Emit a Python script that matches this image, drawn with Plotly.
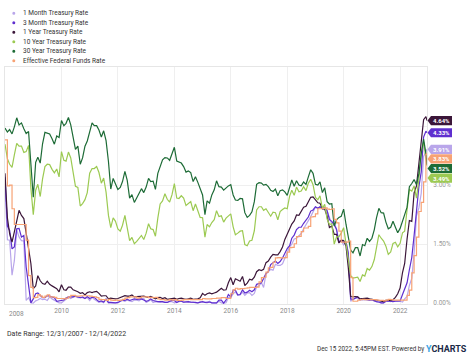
import calendar
import plotly.graph_objects as go

# ---------------- data (end-of-month readings, % ) ----------------
# first point 2007-12-31, then month ends 2008-01 .. 2022-11, last point 2022-12-14
series_names = ["1 Month Treasury Rate", "3 Month Treasury Rate", "1 Year Treasury Rate",
                "10 Year Treasury Rate", "30 Year Treasury Rate", "Effective Federal Funds Rate"]
series_colors = ["#b9a6ea", "#5f2fcf", "#3b1639", "#9cca52", "#1d6b36", "#f7a274"]

m1 = [3.00,
      1.61, 1.60, 0.71, 1.08, 1.86, 1.68, 1.59, 1.58, 0.07, 0.14, 0.01, 0.00,
      0.06, 0.08, 0.12, 0.09, 0.10, 0.07, 0.16, 0.11, 0.07, 0.04, 0.01, 0.01,
      0.05, 0.10, 0.15, 0.12, 0.16, 0.17, 0.14, 0.14, 0.14, 0.12, 0.14, 0.07,
      0.15, 0.10, 0.05, 0.02, 0.04, 0.01, 0.12, 0.00, 0.01, 0.00, 0.01, 0.01,
      0.05, 0.07, 0.05, 0.08, 0.06, 0.04, 0.08, 0.08, 0.06, 0.11, 0.12, 0.02,
      0.05, 0.09, 0.02, 0.04, 0.03, 0.02, 0.03, 0.02, 0.02, 0.04, 0.04, 0.01,
      0.02, 0.04, 0.05, 0.02, 0.03, 0.02, 0.02, 0.03, 0.01, 0.01, 0.04, 0.03,
      0.02, 0.01, 0.05, 0.01, 0.00, 0.00, 0.05, 0.01, 0.00, 0.01, 0.14, 0.14,
      0.24, 0.29, 0.20, 0.21, 0.28, 0.20, 0.26, 0.27, 0.20, 0.25, 0.42, 0.44,
      0.52, 0.40, 0.74, 0.79, 0.86, 0.84, 0.99, 0.96, 0.96, 1.00, 1.14, 1.28,
      1.43, 1.50, 1.63, 1.65, 1.70, 1.77, 1.89, 1.99, 2.12, 2.20, 2.32, 2.44,
      2.41, 2.44, 2.43, 2.43, 2.35, 2.18, 2.01, 2.10, 1.88, 1.59, 1.59, 1.48,
      1.56, 1.30, 0.05, 0.09, 0.13, 0.13, 0.08, 0.09, 0.09, 0.09, 0.08, 0.08,
      0.05, 0.04, 0.01, 0.01, 0.01, 0.05, 0.05, 0.04, 0.07, 0.05, 0.05, 0.05,
      0.03, 0.11, 0.17, 0.45, 0.63, 1.28, 2.22, 2.42, 2.79, 3.73, 3.88, 3.91]

m3 = [3.20,
      1.96, 1.85, 1.38, 1.43, 1.89, 1.90, 1.68, 1.72, 0.92, 0.46, 0.01, 0.11,
      0.24, 0.26, 0.21, 0.14, 0.14, 0.19, 0.18, 0.15, 0.14, 0.05, 0.06, 0.06,
      0.08, 0.13, 0.16, 0.16, 0.16, 0.18, 0.15, 0.14, 0.16, 0.12, 0.17, 0.12,
      0.15, 0.15, 0.09, 0.04, 0.06, 0.03, 0.10, 0.02, 0.02, 0.01, 0.01, 0.02,
      0.06, 0.08, 0.07, 0.10, 0.07, 0.09, 0.11, 0.10, 0.10, 0.11, 0.08, 0.05,
      0.07, 0.11, 0.07, 0.05, 0.04, 0.04, 0.04, 0.02, 0.02, 0.05, 0.07, 0.07,
      0.02, 0.05, 0.05, 0.03, 0.04, 0.04, 0.03, 0.03, 0.02, 0.01, 0.02, 0.04,
      0.02, 0.02, 0.03, 0.01, 0.01, 0.01, 0.08, 0.08, 0.00, 0.08, 0.22, 0.16,
      0.33, 0.33, 0.21, 0.22, 0.34, 0.26, 0.28, 0.33, 0.29, 0.34, 0.48, 0.51,
      0.52, 0.63, 0.76, 0.80, 0.98, 1.03, 1.07, 1.01, 1.06, 1.15, 1.27, 1.39,
      1.46, 1.65, 1.73, 1.87, 1.93, 1.93, 2.03, 2.11, 2.19, 2.34, 2.37, 2.45,
      2.41, 2.45, 2.40, 2.43, 2.35, 2.12, 2.08, 1.99, 1.88, 1.54, 1.59, 1.55,
      1.55, 1.27, 0.11, 0.10, 0.14, 0.16, 0.09, 0.11, 0.10, 0.09, 0.08, 0.09,
      0.06, 0.04, 0.03, 0.01, 0.01, 0.05, 0.06, 0.04, 0.04, 0.05, 0.05, 0.06,
      0.22, 0.35, 0.52, 0.85, 1.16, 1.72, 2.41, 2.96, 3.33, 4.22, 4.37, 4.33]

y1 = [3.30,
      2.17, 1.77, 1.55, 1.81, 2.10, 2.36, 2.23, 2.15, 1.78, 1.42, 1.01, 0.37,
      0.44, 0.70, 0.57, 0.50, 0.48, 0.56, 0.48, 0.44, 0.40, 0.37, 0.29, 0.47,
      0.34, 0.33, 0.41, 0.41, 0.34, 0.32, 0.29, 0.25, 0.27, 0.21, 0.27, 0.29,
      0.27, 0.29, 0.30, 0.25, 0.18, 0.19, 0.19, 0.11, 0.13, 0.12, 0.11, 0.12,
      0.15, 0.18, 0.19, 0.18, 0.18, 0.21, 0.16, 0.17, 0.17, 0.18, 0.18, 0.16,
      0.15, 0.17, 0.14, 0.11, 0.14, 0.15, 0.12, 0.14, 0.10, 0.12, 0.12, 0.13,
      0.10, 0.12, 0.13, 0.11, 0.10, 0.11, 0.13, 0.10, 0.11, 0.11, 0.14, 0.25,
      0.20, 0.24, 0.26, 0.24, 0.26, 0.28, 0.33, 0.38, 0.33, 0.34, 0.52, 0.65,
      0.47, 0.62, 0.59, 0.56, 0.68, 0.45, 0.51, 0.61, 0.59, 0.66, 0.80, 0.85,
      0.83, 0.86, 1.03, 1.07, 1.17, 1.24, 1.23, 1.23, 1.31, 1.43, 1.62, 1.76,
      1.89, 2.01, 2.09, 2.24, 2.23, 2.33, 2.44, 2.46, 2.59, 2.69, 2.70, 2.63,
      2.55, 2.54, 2.40, 2.39, 2.21, 1.92, 1.96, 1.75, 1.75, 1.53, 1.60, 1.59,
      1.45, 0.91, 0.17, 0.16, 0.17, 0.16, 0.11, 0.12, 0.12, 0.13, 0.11, 0.10,
      0.10, 0.08, 0.07, 0.05, 0.04, 0.07, 0.07, 0.07, 0.09, 0.15, 0.24, 0.39,
      0.78, 1.01, 1.63, 2.10, 2.08, 2.80, 2.98, 3.50, 4.05, 4.66, 4.74, 4.64]

y10 = [4.04,
       3.67, 3.53, 3.45, 3.77, 4.06, 3.99, 3.99, 3.83, 3.85, 4.01, 2.93, 2.25,
       2.87, 3.02, 2.71, 3.16, 3.47, 3.53, 3.52, 3.40, 3.31, 3.41, 3.21, 3.85,
       3.63, 3.61, 3.84, 3.69, 3.31, 2.97, 2.94, 2.47, 2.53, 2.63, 2.81, 3.30,
       3.42, 3.42, 3.47, 3.32, 3.05, 3.18, 2.82, 2.23, 1.92, 2.17, 2.08, 1.89,
       1.83, 1.98, 2.23, 1.95, 1.59, 1.67, 1.51, 1.57, 1.65, 1.72, 1.62, 1.78,
       2.02, 1.89, 1.87, 1.70, 2.16, 2.52, 2.60, 2.78, 2.64, 2.57, 2.75, 3.04,
       2.67, 2.66, 2.73, 2.67, 2.48, 2.53, 2.58, 2.35, 2.52, 2.35, 2.18, 2.17,
       1.68, 2.00, 1.94, 2.05, 2.12, 2.35, 2.20, 2.22, 2.06, 2.16, 2.21, 2.27,
       1.94, 1.74, 1.78, 1.83, 1.84, 1.49, 1.46, 1.58, 1.60, 1.84, 2.37, 2.45,
       2.45, 2.36, 2.40, 2.29, 2.21, 2.31, 2.30, 2.12, 2.33, 2.38, 2.42, 2.40,
       2.72, 2.87, 2.74, 2.95, 2.83, 2.85, 2.96, 2.86, 3.05, 3.15, 3.01, 2.69,
       2.63, 2.73, 2.41, 2.51, 2.14, 2.00, 2.02, 1.50, 1.68, 1.69, 1.78, 1.92,
       1.51, 1.13, 0.70, 0.64, 0.65, 0.66, 0.55, 0.72, 0.69, 0.88, 0.84, 0.93,
       1.11, 1.44, 1.74, 1.65, 1.58, 1.45, 1.24, 1.30, 1.52, 1.55, 1.43, 1.52,
       1.79, 1.83, 2.32, 2.89, 2.85, 2.98, 2.67, 3.15, 3.83, 4.10, 3.68, 3.49]

y30 = [4.45,
       4.35, 4.41, 4.30, 4.48, 4.71, 4.53, 4.58, 4.43, 4.31, 4.36, 3.44, 2.69,
       3.58, 3.71, 3.56, 4.05, 4.34, 4.32, 4.30, 4.18, 4.04, 4.25, 4.21, 4.64,
       4.51, 4.57, 4.72, 4.53, 4.22, 3.91, 3.99, 3.53, 3.69, 3.99, 4.12, 4.34,
       4.58, 4.51, 4.51, 4.40, 4.22, 4.38, 4.13, 3.60, 2.90, 3.17, 3.05, 2.89,
       2.94, 3.09, 3.35, 3.12, 2.67, 2.76, 2.56, 2.68, 2.82, 2.91, 2.81, 2.95,
       3.17, 3.09, 3.10, 2.89, 3.30, 3.50, 3.64, 3.70, 3.69, 3.63, 3.81, 3.96,
       3.61, 3.59, 3.56, 3.47, 3.33, 3.36, 3.32, 3.09, 3.21, 3.07, 2.89, 2.75,
       2.25, 2.60, 2.54, 2.75, 2.88, 3.11, 2.96, 2.95, 2.87, 2.93, 2.98, 3.01,
       2.75, 2.62, 2.61, 2.66, 2.65, 2.30, 2.18, 2.23, 2.32, 2.58, 3.02, 3.06,
       3.05, 3.00, 3.02, 2.96, 2.87, 2.84, 2.90, 2.73, 2.86, 2.88, 2.83, 2.74,
       2.95, 3.13, 2.97, 3.11, 3.00, 2.98, 3.08, 3.02, 3.21, 3.39, 3.30, 3.02,
       3.00, 3.08, 2.81, 2.93, 2.58, 2.52, 2.53, 1.96, 2.12, 2.18, 2.21, 2.39,
       2.00, 1.68, 1.35, 1.28, 1.41, 1.41, 1.20, 1.49, 1.46, 1.65, 1.57, 1.65,
       1.87, 2.17, 2.41, 2.30, 2.29, 2.06, 1.89, 1.93, 2.08, 1.93, 1.79, 1.90,
       2.11, 2.25, 2.44, 2.96, 3.04, 3.14, 3.01, 3.29, 3.79, 4.17, 3.80, 3.52]

ffr = [4.15,
       2.98, 3.00, 2.40, 2.00, 2.00, 2.00, 2.00, 2.00, 1.60, 0.70, 0.40, 0.14,
       0.15, 0.22, 0.18, 0.15, 0.18, 0.21, 0.16, 0.16, 0.15, 0.12, 0.12, 0.12,
       0.11, 0.13, 0.16, 0.20, 0.20, 0.18, 0.18, 0.19, 0.19, 0.19, 0.19, 0.18,
       0.17, 0.16, 0.14, 0.10, 0.09, 0.09, 0.07, 0.10, 0.08, 0.07, 0.08, 0.07,
       0.08, 0.10, 0.13, 0.14, 0.16, 0.16, 0.16, 0.13, 0.14, 0.16, 0.16, 0.16,
       0.14, 0.15, 0.14, 0.15, 0.11, 0.09, 0.09, 0.08, 0.08, 0.09, 0.08, 0.09,
       0.07, 0.07, 0.08, 0.09, 0.09, 0.10, 0.09, 0.09, 0.09, 0.09, 0.09, 0.12,
       0.11, 0.11, 0.11, 0.12, 0.12, 0.13, 0.13, 0.14, 0.14, 0.12, 0.12, 0.24,
       0.34, 0.38, 0.36, 0.37, 0.37, 0.38, 0.39, 0.40, 0.40, 0.40, 0.41, 0.54,
       0.65, 0.66, 0.79, 0.90, 0.91, 1.04, 1.15, 1.16, 1.15, 1.15, 1.16, 1.30,
       1.41, 1.42, 1.51, 1.69, 1.70, 1.82, 1.91, 1.91, 1.95, 2.19, 2.20, 2.27,
       2.40, 2.40, 2.41, 2.42, 2.39, 2.38, 2.40, 2.13, 2.04, 1.83, 1.55, 1.55,
       1.55, 1.58, 0.65, 0.05, 0.05, 0.08, 0.09, 0.10, 0.09, 0.09, 0.09, 0.09,
       0.09, 0.08, 0.07, 0.07, 0.06, 0.08, 0.10, 0.09, 0.08, 0.08, 0.08, 0.08,
       0.08, 0.08, 0.20, 0.33, 0.77, 1.21, 1.68, 2.33, 2.56, 3.08, 3.78, 3.83]

series_values = [m1, m3, y1, y10, y30, ffr]

x_tick_vals = ["2008-01-01", "2010-01-01", "2012-01-01", "2014-01-01",
               "2016-01-01", "2018-01-01", "2020-01-01", "2022-01-01"]
x_tick_text = ["", "2010", "2012", "2014", "2016", "2018", "2020", "2022"]
y_tick_vals = [0, 1.5, 3.0, 4.5, 6.0]
y_tick_text = ["0.00%", "1.50%", "3.00%", "", ""]
date_range_text = "Date Range: 12/31/2007 - 12/14/2022"
stamp_text = "Dec 15 2022, 5:45PM EST. Powered by"

# dates: 2007-12-31, month ends through Nov 2022, then 2022-12-14
dates = ["2007-12-31"]
for yr in range(2008, 2023):
    for mo in range(1, 13):
        if yr == 2022 and mo == 12:
            dates.append("2022-12-14")
        else:
            dates.append(f"{yr}-{mo:02d}-{calendar.monthrange(yr, mo)[1]:02d}")

# ---------------- geometry ----------------
W, H = 474, 356
L, R, T, B = 5, 427, 67, 304
PW, PH = R - L, B - T
Y0, Y1 = -0.02, 6.0
FONT = "Roboto"


def px_x(x):
    return (x - L) / PW


def px_y(y):
    return (B - y) / PH


fig = go.Figure()
for name, col, vals in zip(series_names, series_colors, series_values):
    fig.add_trace(go.Scatter(x=dates, y=vals, mode="lines", name=name,
                             line=dict(color=col, width=1.2,
                                       shape="hv" if name.startswith("Effective") else "linear"),
                             showlegend=False))

annotations = []
shapes = []

# custom compact legend
for i, (name, col) in enumerate(zip(series_names, series_colors)):
    yc = 13.3 + i * 9.5
    shapes.append(dict(type="circle", xref="paper", yref="paper",
                       x0=px_x(12.3), x1=px_x(15.3), y0=px_y(yc + 1.5), y1=px_y(yc - 1.5),
                       fillcolor=col, line=dict(width=0)))
    annotations.append(dict(text=name, xref="paper", yref="paper", x=px_x(20.5), y=px_y(yc),
                            xanchor="left", yanchor="middle", showarrow=False,
                            font=dict(family=FONT, size=6.5, color="#333333")))

# end-value tags with simple de-overlap
last = sorted([(vals[-1], col) for vals, col in zip(series_values, series_colors)], reverse=True)
gap = 9.6 * (Y1 - Y0) / PH
prev = None
for v, col in last:
    pos = v if prev is None else min(v, prev - gap)
    prev = pos
    half = 4.6 * (Y1 - Y0) / PH
    path = (f"M {px_x(427.5)},{pos} L {px_x(431)},{pos + half} L {px_x(452)},{pos + half} "
            f"L {px_x(452)},{pos - half} L {px_x(431)},{pos - half} Z")
    shapes.append(dict(type="path", xref="paper", yref="y", path=path,
                       fillcolor=col, line=dict(width=0), layer="above"))
    annotations.append(dict(text=f"<b>{v:.2f}%</b>", xref="paper", yref="y", x=px_x(441.5), y=pos,
                            xanchor="center", yanchor="middle", showarrow=False,
                            font=dict(family=FONT, size=6, color="white")))

# first year label, shifted inside
annotations.append(dict(text="2008", xref="paper", yref="paper", x=0, y=px_y(313.5), xshift=1.5,
                        xanchor="left", yanchor="middle", showarrow=False,
                        font=dict(family=FONT, size=6.5, color="#888888")))
# footer
annotations.append(dict(text=date_range_text, xref="paper", yref="paper", x=px_x(5), y=px_y(334),
                        xanchor="left", yanchor="middle", showarrow=False,
                        font=dict(family=FONT, size=7, color="#333333")))
annotations.append(dict(text=stamp_text, xref="paper", yref="paper", x=px_x(426), y=px_y(349),
                        xanchor="right", yanchor="middle", showarrow=False,
                        font=dict(family=FONT, size=6.3, color="#333333")))
annotations.append(dict(text="<b><span style='color:#3aa3e3'>Y</span>CHARTS</b>", xref="paper", yref="paper",
                        x=px_x(424), y=px_y(348.5), xanchor="left", yanchor="middle", showarrow=False,
                        font=dict(family=FONT, size=9, color="#1b2a47")))

fig.update_layout(
    width=W, height=H,
    margin=dict(l=L, r=W - R, t=T, b=H - B, pad=0),
    paper_bgcolor="white", plot_bgcolor="white",
    font=dict(family=FONT, size=6.5, color="#888888"),
    showlegend=False,
    annotations=annotations, shapes=shapes,
    xaxis=dict(type="date", range=[dates[0], dates[-1]], tickvals=x_tick_vals, ticktext=x_tick_text,
               showgrid=True, gridcolor="#efefef", gridwidth=1, zeroline=False,
               showline=True, linecolor="#e6e6e6", linewidth=1, mirror=True,
               ticks="", tickfont=dict(family=FONT, size=6.5, color="#888888")),
    yaxis=dict(side="right", range=[Y0, Y1], tickvals=y_tick_vals, ticktext=y_tick_text,
               showgrid=True, gridcolor="#efefef", gridwidth=1, zeroline=False,
               showline=True, linecolor="#e6e6e6", linewidth=1, mirror=True,
               ticks="", ticklabelstandoff=4,
               tickfont=dict(family=FONT, size=6.5, color="#999999")),
)

fig.write_html("out.html", config={"displayModeBar": False},
               post_script="document.body.style.margin='0';document.body.style.overflow='hidden';")
